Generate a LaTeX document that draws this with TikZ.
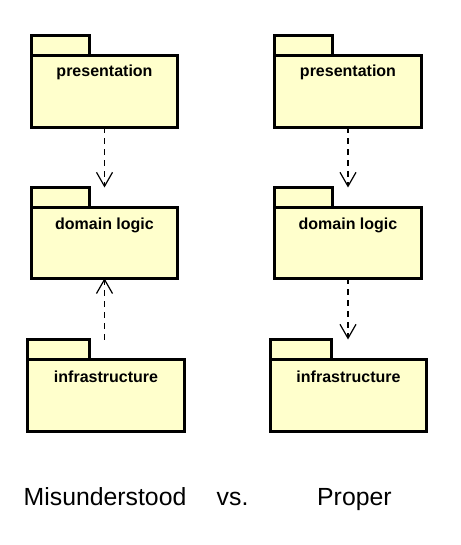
\documentclass[tikz,border=0pt]{standalone}
\usepackage{fontspec}
\setmainfont{Liberation Sans}
\usetikzlibrary{arrows.meta,fit}
\definecolor{pkgfill}{HTML}{FFFFCC}
\newcommand\pkgbox[8]{% name, x1, tab top, x2, bottom, tab right, label, label drop
  \node[pkgline, fit={(#2,#3) (#6,#3+20)}] (#1tab) {};
  \node[pkgline, fit={(#2,#3+20) (#4,#5)}] (#1) {};
  \node[pkglabel] (#1label) at ([yshift=-#8pt]#1.north) {#7};
}
\begin{document}
\begin{tikzpicture}[x=1pt,y=-1pt,
  pkgline/.style={draw=black, line width=3pt, fill=pkgfill, inner sep=0pt, outer sep=0pt, rectangle},
  pkglabel/.style={font=\fontsize{16}{19}\selectfont\bfseries, inner sep=0pt, anchor=base},
  dep/.style={draw=black, line width=1.2pt, dash pattern=on 6pt off 5pt, -{Straight Barb[length=14pt,width=16pt]}},
  caption/.style={font=\fontsize{24.8}{29}\selectfont, inner sep=0pt, anchor=base west}]
\useasboundingbox (0,0) rectangle (460,545);
\fill[white] (0,0) rectangle (460,545);

\pkgbox{lp}{31.5}{35.5}{177.5}{127.3}{89.5}{presentation}{21}
\pkgbox{ld}{31.5}{187.5}{177.5}{278.3}{89.5}{domain logic}{22}
\pkgbox{li}{27.5}{339.5}{184.5}{431.7}{89.5}{infrastructure}{22.5}
\pkgbox{rp}{274.5}{35.5}{421.5}{127.3}{332.5}{presentation}{21}
\pkgbox{rd}{274.5}{187.5}{421.5}{278.3}{332.5}{domain logic}{22}
\pkgbox{ri}{270.5}{339.5}{426.5}{431.7}{331.5}{infrastructure}{22.5}

\draw[dep] (lp.south) -- (lp.south |- ldtab.north);
\draw[dep] (ld.south |- litab.north) -- (ld.south);
\draw[dep] (rp.south) -- (rp.south |- rdtab.north);
\draw[dep] (rd.south) -- (rd.south |- ritab.north);

\node[caption] (mis) at (23.5,505) {Misunderstood};
\node[caption] (vs) at (216.5,505) {vs.};
\node[caption] (proper) at (317,505) {Proper};
\end{tikzpicture}
\end{document}
